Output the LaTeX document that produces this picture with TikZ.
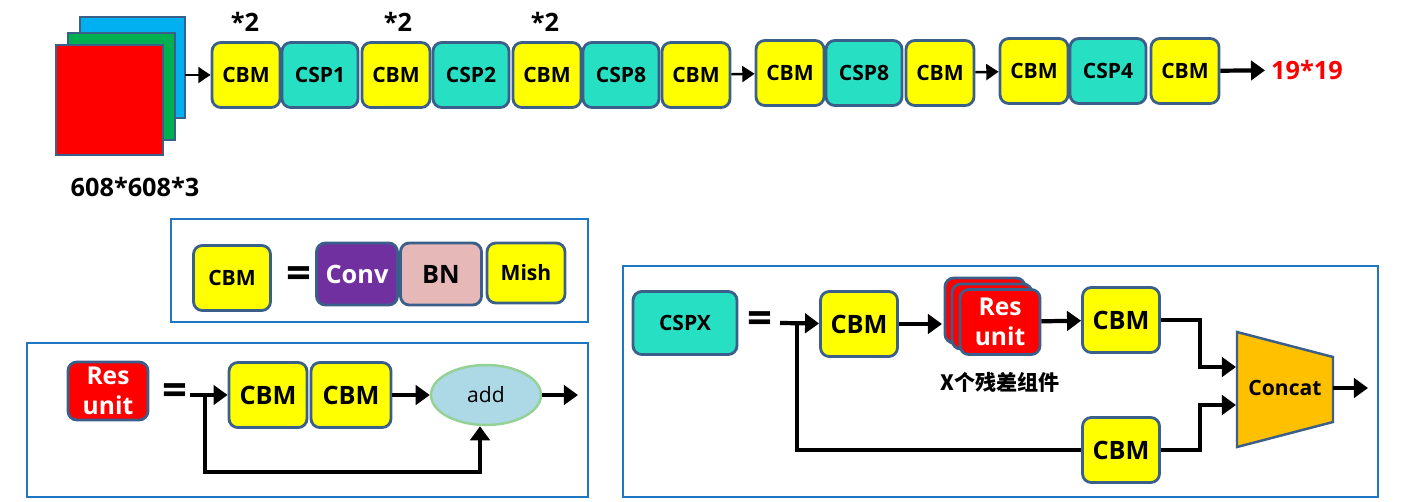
\documentclass[tikz,border=0pt]{standalone}
\usepackage{fontspec}
\setmainfont{Open Sans}
\newfontfamily\cjk{Noto Sans CJK SC}
\usetikzlibrary{shapes,shapes.geometric,positioning,arrows.meta,calc}
\definecolor{edgeblue}{HTML}{3A5F8A}
\definecolor{frameblue}{HTML}{1F77C4}
\definecolor{cbmyellow}{HTML}{FFFF00}
\definecolor{csgreen}{HTML}{27E0C4}
\definecolor{convpurple}{HTML}{7030A0}
\definecolor{bnpink}{HTML}{E6B9B8}
\definecolor{addblue}{HTML}{ADD8E6}
\definecolor{concatorange}{HTML}{FFC000}
\definecolor{layerblue}{HTML}{00B0F0}
\definecolor{layergreen}{HTML}{00B050}

\begin{document}
\begin{tikzpicture}[
            x=0.02cm, y=-0.02cm,
            font=\bfseries\large,
            blk/.style ={
                rounded corners=5pt,
                draw=edgeblue,
                line width=1.6pt,
                minimum height=1.3cm,
                inner sep=0pt
            },
            cbm/.style ={blk, fill=cbmyellow, minimum width=1.36cm},
            csp/.style ={blk, fill=csgreen, minimum width=1.52cm},
            res/.style ={blk, fill=red, text=white, align=center, font=\bfseries\fontsize{14}{17}\selectfont},
            frame/.style ={draw=frameblue, line width=1.6pt},
            flow/.style ={line width=2.4pt, -{Triangle[length=8pt,width=11pt]}},
            wire/.style ={line width=2.4pt}
            ]
            \useasboundingbox (0,0) rectangle (1416,501);

            %% input tensor
            \draw[draw=edgeblue, line width=1.4pt, fill=layerblue] (80,17) rectangle (185,118);
            \draw[draw=edgeblue, line width=1.4pt, fill=layergreen] (68,33) rectangle (175,140);
            \draw[draw=edgeblue, line width=1.4pt, fill=red] (56,45) rectangle (163,155);
            \coordinate (img) at (185,75);
            \node (insize) at (135,187) {\Large 608*608*3};

            %% backbone row
            \node[cbm] (c1) at (246,75) {CBM};
            \node[csp] (s1) at (320,75) {CSP1};
            \node[cbm] (c2) at (396,75) {CBM};
            \node[csp] (s2) at (471,75) {CSP2};
            \node[cbm] (c3) at (547,75) {CBM};
            \node[csp] (s3) at (621,75) {CSP8};
            \node[cbm] (c4) at (696,75) {CBM};
            \node[cbm] (c5) at (790,73) {CBM};
            \node[csp] (s4) at (864,73) {CSP8};
            \node[cbm] (c6) at (940,73) {CBM};
            \node[cbm] (c7) at (1034,71) {CBM};
            \node[csp] (s5) at (1108,71) {CSP4};
            \node[cbm] (c8) at (1185,71) {CBM};
            \node[text=red] (out) at (1307,70) {\Large 19*19};
            \foreach \n/\xx in {m1/245,m2/398,m3/545}
                \node (\n) at (\xx,22) {\Large *2};
            \draw[line width=1.4pt, -{Triangle[length=7pt,width=9pt]}] (img) -- (c1);
            \draw[line width=1.4pt, -{Triangle[length=7pt,width=9pt]}] (c4) -- (c5);
            \draw[line width=1.4pt, -{Triangle[length=7pt,width=9pt]}] (c6) -- (c7);
            \draw[flow] (c8) -- (out);

            %% CBM definition
            \draw[frame] (171,219) rectangle (588,322);
            \node[cbm, minimum width=1.54cm] (cbmdef) at (232,278) {CBM};
            \node (eq1) at (299,278) {\Huge =};
            \node[blk, fill=convpurple, text=white, minimum width=1.62cm, minimum height=1.24cm] (conv) at (357,274) {\Large Conv};
            \node[blk, fill=bnpink, minimum width=1.62cm, minimum height=1.24cm] (bn) at (441,274) {\Large BN};
            \node[cbm, minimum width=1.56cm, minimum height=1.2cm] (mish) at (526,273) {Mish};

            %% Res unit definition
            \draw[frame] (27,343) rectangle (588,497);
            \node[res, minimum width=1.6cm, minimum height=1.16cm] (resdef) at (108,391) {Res\\unit};
            \node (eq2) at (175,395) {\Huge =};
            \coordinate (rin) at (190,395);
            \coordinate (rsplit) at (205,395);
            \node[cbm, minimum width=1.56cm] (rc1) at (268,395) {\Large CBM};
            \node[cbm, minimum width=1.6cm] (rc2) at (351,395) {\Large CBM};
            \node[ellipse, draw=green!40!gray!60, line width=1.4pt, fill=addblue, minimum width=2.2cm, minimum height=1.2cm, font=\normalfont\large] (add) at (486,395) {add};
            \coordinate (rout) at (578,395);
            \draw[flow] (rin) -- (rc1);
            \draw[flow] (rc2) -- (add);
            \draw[flow] (add) -- (rout);
            \draw[flow] (rsplit) |- (480,472) -- (add.south -| 480,472);

            %% CSPX definition
            \draw[frame] (623,266) rectangle (1378,497);
            \node[csp, minimum width=2.08cm, minimum height=1.26cm] (cspdef) at (685,323) {CSPX};
            \node (eq3) at (760,323) {\Huge =};
            \coordinate (cin) at (780,323);
            \coordinate (csplit) at (797,323);
            \node[cbm, minimum width=1.54cm] (xc1) at (859,324) {\Large CBM};
            \draw[blk, fill=red] (945,278) rectangle (1025,343);
            \draw[blk, fill=red] (952,284) rectangle (1032,349);
            \node[res, minimum width=1.6cm] (xres) at (1000,322) {Res\\unit};
            \coordinate (xresin) at (942,324);
            \node[font=\bfseries\cjk] (xlabel) at (1000,382) {\large X个残差组件};
            \node[cbm, minimum width=1.54cm] (xc2) at (1121,320) {\Large CBM};
            \node[cbm, minimum width=1.54cm] (xc3) at (1121,450) {\Large CBM};
            \draw[draw=edgeblue, line width=1.4pt, fill=concatorange] (1237,332) -- (1333,357) -- (1333,422) -- (1237,447) -- cycle;
            \node (concat) at (1285,388) {Concat};
            \coordinate (cat1) at (1236,367);
            \coordinate (cat2) at (1236,405);
            \coordinate (catout) at (1333,388);
            \coordinate (xout) at (1368,388);
            \draw[flow] (cin) -- (xc1);
            \draw[flow] (xc1) -- (xresin);
            \draw[flow] (xres) -- (xc2);
            \draw[flow] (xc2.east) -| (1200,367) -- (cat1);
            \draw[flow] (xc3.east) -| (1200,405) -- (cat2);
            \draw[wire] (csplit) |- (xc3);
            \draw[flow] (catout) -- (xout);
        \end{tikzpicture}
\end{document}
